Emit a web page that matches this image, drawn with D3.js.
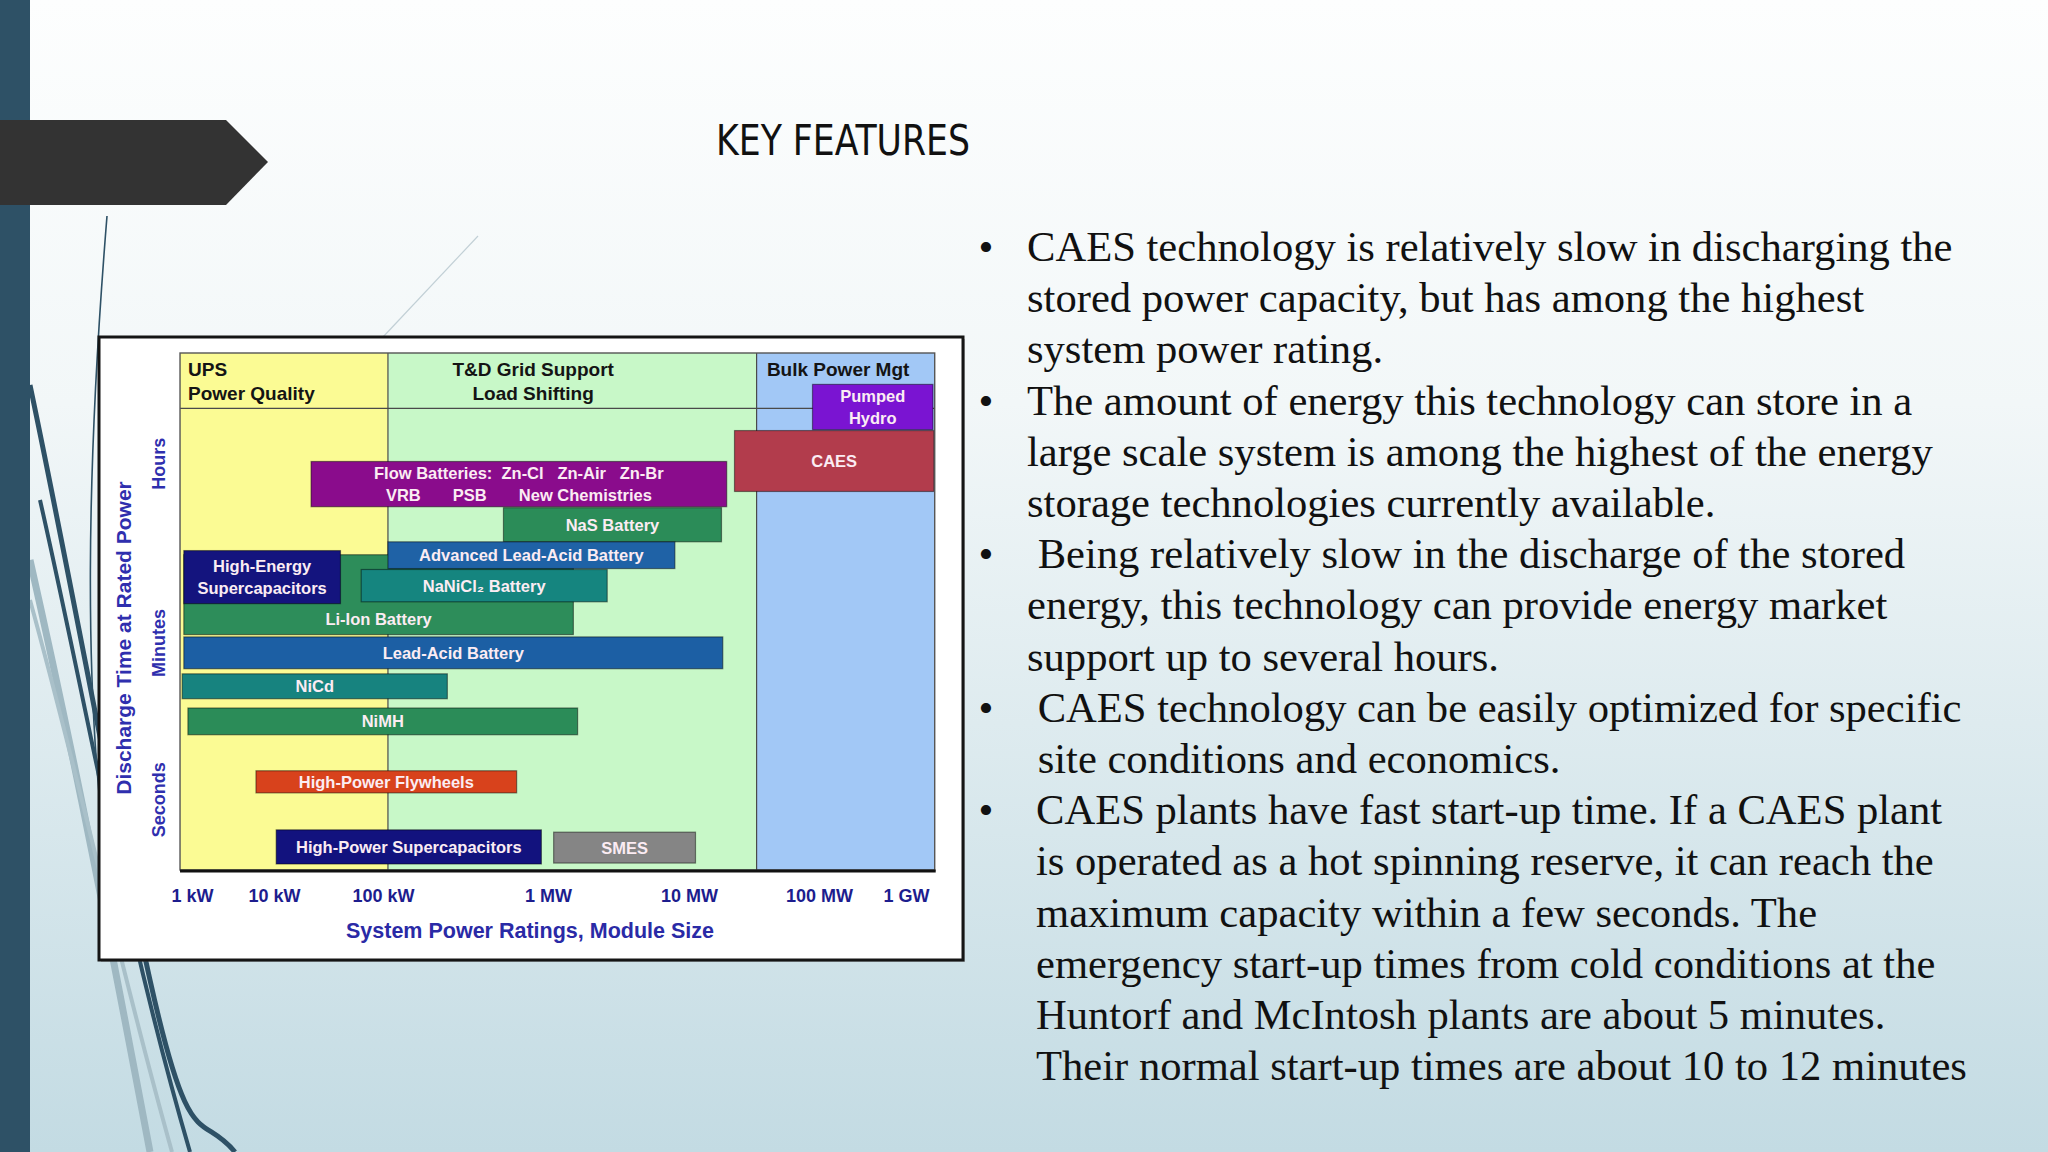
<!DOCTYPE html>
<html lang="en">
<head>
<meta charset="utf-8">
<script src="https://d3js.org/d3.v7.min.js"></script>
<title>Key Features</title>
<style>
  body { margin: 0; overflow: hidden; }
  svg text { font-family: "Liberation Sans", Arial, sans-serif; }
  svg text.serif { font-family: "Liberation Serif", "Times New Roman", serif; }
  svg text.narrow { font-family: "Liberation Sans Narrow", "DejaVu Sans Condensed", sans-serif; }
</style>
</head>
<body>
<script>
// technologies, in drawing order (later bars sit on top of earlier ones)
const technologies = ["Pumped Hydro", "CAES", "Flow Batteries", "NaS Battery",
  "Li-Ion Battery", "Advanced Lead-Acid Battery", "High-Energy Supercapacitors",
  "NaNiCl2 Battery", "Lead-Acid Battery", "NiCd", "NiMH", "High-Power Flywheels",
  "High-Power Supercapacitors", "SMES"];
// system power rating, log10 of kW (0 = 1 kW ... 6 = 1 GW)
const powerMin = [4.95, 4.35, 1.34, 2.73, -0.10, 2.03, -0.10, 1.80, -0.10, -0.12, -0.05, 0.78, 1.02, 3.04];
const powerMax = [6.31, 6.32, 4.29, 4.25, 3.18, 3.90, 1.61, 3.42, 4.26, 2.39, 3.21, 2.81, 2.96, 4.05];
// discharge time at rated power, chart units (0 = bottom, 10 = top of the Hours band)
const timeMin = [9.54, 8.20, 7.87, 7.11, 5.10, 6.53, 5.77, 5.81, 4.36, 3.71, 2.93, 1.67, 0.13, 0.15];
const timeMax = [10.52, 9.52, 8.85, 7.85, 6.83, 7.11, 6.92, 6.51, 5.05, 4.25, 3.51, 2.15, 0.87, 0.82];
const barLabels = ["Pumped\nHydro", "CAES",
  "Flow Batteries:  Zn-Cl   Zn-Air   Zn-Br\nVRB       PSB       New Chemistries",
  "NaS Battery", "Li-Ion Battery", "Advanced Lead-Acid Battery",
  "High-Energy\nSupercapacitors", "NaNiCl\u2082 Battery", "Lead-Acid Battery",
  "NiCd", "NiMH", "High-Power Flywheels", "High-Power Supercapacitors", "SMES"];
const barColors = ["#7a14d2", "#b23c4c", "#8a0c8c", "#2b8c58", "#2d8d5a", "#1f62a6",
  "#14147e", "#15857f", "#1c5fa4", "#17837f", "#2b8c58", "#d8421c", "#12127e", "#858585"];

// application bands across the top
const regionNames = ["UPS\nPower Quality", "T&D Grid Support\nLoad Shifting", "Bulk Power Mgt"];
const regionFrom = [-0.146, 2.03, 4.52];
const regionTo = [2.03, 4.52, 6.33];
const regionColors = ["#fbfb94", "#c8f8c8", "#a2c8f6"];

const tickValues = [0, 1, 2, 3, 4, 5, 6];
const tickLabels = ["1 kW", "10 kW", "100 kW", "1 MW", "10 MW", "100 MW", "1 GW"];
const timeLabels = ["Seconds", "Minutes", "Hours"];
const timeLabelAt = [1.52, 4.92, 8.80];

// slide text
const titleText = "KEY FEATURES";
const bodyLines = [
  "CAES technology is relatively slow in discharging the",
  "stored power capacity, but has among the highest",
  "system power rating.",
  "The amount of energy this technology can store in a",
  "large scale system is among the highest of the energy",
  "storage technologies currently available.",
  " Being relatively slow in the discharge of the stored",
  "energy, this technology can provide energy market",
  "support up to several hours.",
  " CAES technology can be easily optimized for specific",
  " site conditions and economics.",
  "CAES plants have fast start-up time. If a CAES plant",
  "is operated as a hot spinning reserve, it can reach the",
  "maximum capacity within a few seconds. The",
  "emergency start-up times from cold conditions at the",
  "Huntorf and McIntosh plants are about 5 minutes.",
  "Their normal start-up times are about 10 to 12 minutes"];
const bulletAt = [0, 3, 6, 9, 11];

const W = 2048, H = 1152;
const svg = d3.select("body").append("svg")
  .attr("width", W).attr("height", H);

// background
const defs = svg.append("defs");
const grad = defs.append("linearGradient").attr("id", "bg")
  .attr("x1", 0).attr("y1", 0).attr("x2", 0).attr("y2", 1);
grad.append("stop").attr("offset", "0%").attr("stop-color", "#fdfefe");
grad.append("stop").attr("offset", "35%").attr("stop-color", "#f2f7f8");
grad.append("stop").attr("offset", "100%").attr("stop-color", "#c3dbe3");
svg.append("rect").attr("width", W).attr("height", H).attr("fill", "url(#bg)");

// decorative strokes on the left
const deco = svg.append("g").attr("fill", "none");
deco.append("path").attr("d", "M30 560 C 75 760, 110 940, 150 1152")
  .attr("stroke", "#9fb8c2").attr("stroke-width", 7);
deco.append("path").attr("d", "M30 600 C 85 800, 118 960, 172 1152")
  .attr("stroke", "#a9c0c9").attr("stroke-width", 4);
deco.append("path").attr("d", "M30 385 C 75 600, 110 800, 150 980 S 200 1110, 235 1152")
  .attr("stroke", "#2e5166").attr("stroke-width", 5);
deco.append("path").attr("d", "M40 500 C 90 720, 125 930, 190 1152")
  .attr("stroke", "#2e5166").attr("stroke-width", 4);
deco.append("path").attr("d", "M107 216 C 88 450, 80 700, 112 900")
  .attr("stroke", "#2e5166").attr("stroke-width", 1.6);
deco.append("line").attr("x1", 478).attr("y1", 236).attr("x2", 383).attr("y2", 337)
  .attr("stroke", "#c2d0d6").attr("stroke-width", 1.2);

svg.append("rect").attr("x", 0).attr("y", 0).attr("width", 30).attr("height", H)
  .attr("fill", "#2e5166");
svg.append("path").attr("d", "M0 120 L226 120 L268 162 L226 205 L0 205 Z")
  .attr("fill", "#333333");

svg.append("text").attr("class", "narrow")
  .attr("x", 843).attr("y", 155)
  .attr("text-anchor", "middle")
  .attr("textLength", 254).attr("lengthAdjust", "spacingAndGlyphs")
  .style("font-size", "43px").attr("fill", "#111")
  .text(titleText);

// bullet text
const body = svg.append("g").attr("fill", "#111");
body.selectAll("text.line").data(bodyLines).join("text")
  .attr("class", "line serif")
  .attr("x", (d, i) => i >= 11 ? 1036 : 1027)
  .attr("y", (d, i) => 261 + i * 51.2)
  .style("font-size", "42.6px")
  .style("white-space", "pre")
  .text(d => d);
body.selectAll("text.bullet").data(bulletAt).join("text")
  .attr("class", "bullet serif")
  .attr("x", 986).attr("y", d => 261 + d * 51.2)
  .attr("text-anchor", "middle")
  .style("font-size", "42.6px")
  .text("\u2022");

// chart frame
svg.append("rect").attr("x", 101).attr("y", 339).attr("width", 864).attr("height", 623)
  .attr("fill", "#555").attr("opacity", 0.35);
svg.append("rect").attr("x", 99).attr("y", 337).attr("width", 864).attr("height", 623)
  .attr("fill", "#ffffff").attr("stroke", "#151515").attr("stroke-width", 3);

// scales: the power axis of the original is not evenly spaced per decade
const x = d3.scaleLinear()
  .domain(tickValues)
  .range([192, 274, 383, 548, 689, 819, 906]);
const y = d3.scaleLinear().domain([0, 11.2]).range([870, 353]);

const xLo = -0.146, xHi = 6.33, yTop = 11.2;
const plot = svg.append("g");

// application bands
const regions = regionNames.map((n, i) => ({ name: n, from: regionFrom[i], to: regionTo[i], color: regionColors[i] }));
plot.selectAll("rect.region").data(regions).join("rect")
  .attr("class", "region")
  .attr("x", d => x(d.from)).attr("width", d => x(d.to) - x(d.from))
  .attr("y", y(yTop)).attr("height", y(0) - y(yTop))
  .attr("fill", d => d.color);
plot.append("line")
  .attr("x1", x(xLo)).attr("x2", x(xHi)).attr("y1", y(10)).attr("y2", y(10))
  .attr("stroke", "#4a4a4a").attr("stroke-width", 1.2);
plot.selectAll("line.sep").data(regions.slice(1)).join("line")
  .attr("class", "sep")
  .attr("x1", d => x(d.from)).attr("x2", d => x(d.from))
  .attr("y1", y(yTop)).attr("y2", y(0))
  .attr("stroke", "#4a4a4a").attr("stroke-width", 1.2);

// band headings
const headAnchor = [{ at: xLo, anchor: "start", dx: 8 }, { at: 2.91, anchor: "middle", dx: 0 }, { at: 5.22, anchor: "middle", dx: 0 }];
regions.forEach((r, i) => {
  const t = plot.append("text")
    .attr("text-anchor", headAnchor[i].anchor)
    .style("font-size", "19px").style("font-weight", "bold").attr("fill", "#141414");
  r.name.split("\n").forEach((ln, k) => {
    t.append("tspan").attr("x", x(headAnchor[i].at) + headAnchor[i].dx)
      .attr("y", y(10.70) + k * 23.5).text(ln);
  });
});

// technology bars
const bars = technologies.map((t, i) => ({
  name: t, x0: powerMin[i], x1: powerMax[i], y0: timeMin[i], y1: timeMax[i],
  label: barLabels[i], color: barColors[i]
}));
// label goes in the middle of the part of a bar that later bars do not cover
bars.forEach((b, i) => {
  let top = b.y1;
  bars.slice(i + 1).forEach(o => {
    const overX = o.x0 < b.x1 && o.x1 > b.x0;
    const overY = o.y0 < b.y1 && o.y1 > b.y0;
    if (overX && overY && o.y0 > b.y0) top = Math.min(top, o.y0);
  });
  b.labelAt = (b.y0 + top) / 2;
});

const barG = plot.selectAll("g.bar").data(bars).join("g").attr("class", "bar");
barG.append("rect")
  .attr("x", d => x(d.x0)).attr("width", d => x(d.x1) - x(d.x0))
  .attr("y", d => y(d.y1)).attr("height", d => y(d.y0) - y(d.y1))
  .attr("fill", d => d.color)
  .attr("stroke", "rgba(0,0,0,0.45)").attr("stroke-width", 1.2);
barG.append("text")
  .attr("text-anchor", "middle")
  .style("font-size", "16.5px").style("font-weight", "bold")
  .style("white-space", "pre")
  .attr("fill", "#fbecf3")
  .each(function (d) {
    const lines = d.label.split("\n");
    const cx = (x(d.x0) + x(d.x1)) / 2;
    const cy = y(d.labelAt);
    lines.forEach((ln, k) => {
      d3.select(this).append("tspan")
        .attr("x", cx)
        .attr("y", cy + 6 + (k - (lines.length - 1) / 2) * 21.5)
        .text(ln);
    });
  });

// plot outline and base line
plot.append("rect")
  .attr("x", x(xLo)).attr("y", y(yTop))
  .attr("width", x(xHi) - x(xLo)).attr("height", y(0) - y(yTop))
  .attr("fill", "none").attr("stroke", "#555").attr("stroke-width", 1.4);
plot.append("line")
  .attr("x1", x(xLo)).attr("x2", x(xHi) + 1).attr("y1", y(0) + 1).attr("y2", y(0) + 1)
  .attr("stroke", "#111").attr("stroke-width", 3);

// power axis
const xAxis = d3.axisBottom(x).tickValues(tickValues)
  .tickFormat((d, i) => tickLabels[i]).tickSize(0).tickPadding(0);
const ax = svg.append("g").attr("transform", "translate(0," + 902 + ")").call(xAxis);
ax.select(".domain").remove();
ax.selectAll("text")
  .attr("dy", 0)
  .style("font-family", "'Liberation Sans', Arial, sans-serif")
  .style("font-size", "18px").style("font-weight", "bold").attr("fill", "#1d1d8e");

svg.append("text").attr("x", 530).attr("y", 938)
  .attr("text-anchor", "middle")
  .style("font-size", "21.5px").style("font-weight", "bold").attr("fill", "#2a2aa6")
  .text("System Power Ratings, Module Size");

// time axis
svg.append("text")
  .attr("transform", "translate(131," + 638 + ") rotate(-90)")
  .attr("text-anchor", "middle")
  .style("font-size", "21px").style("font-weight", "bold").attr("fill", "#2f2fae")
  .text("Discharge Time at Rated Power");
svg.selectAll("text.tlab").data(timeLabels).join("text")
  .attr("class", "tlab")
  .attr("transform", (d, i) => "translate(165," + y(timeLabelAt[i]) + ") rotate(-90)")
  .attr("text-anchor", "middle")
  .style("font-size", "18px").style("font-weight", "bold").attr("fill", "#2f2fae")
  .text(d => d);
</script>
</body>
</html>
